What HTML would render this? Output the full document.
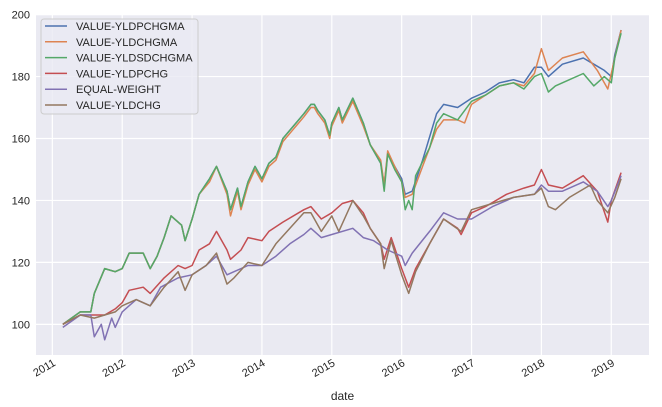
<!DOCTYPE html>
<html><head><meta charset="utf-8"><style>
body{margin:0;background:#fff;}
svg{display:block;font-family:"Liberation Sans","DejaVu Sans",sans-serif;}
</style></head><body>
<svg id="chart" width="662" height="407" viewBox="0 0 662 407" xmlns="http://www.w3.org/2000/svg">
<rect x="36" y="14" width="613" height="341" fill="#eaeaf2"/>
<g id="grid"></g><g id="series"></g><g id="axes"></g><g id="legend"></g>
</svg>
<script>
const yTicks=[100,120,140,160,180,200];
const xTicks=[2011,2012,2013,2014,2015,2016,2017,2018,2019];
const names=["VALUE-YLDPCHGMA","VALUE-YLDCHGMA","VALUE-YLDSDCHGMA","VALUE-YLDPCHG","EQUAL-WEIGHT","VALUE-YLDCHG"];
const colors=["#4c72b0","#dd8452","#55a868","#c44e52","#8172b3","#937860"];
const greenT=[2011.15,2011.4,2011.55,2011.6,2011.75,2011.9,2012.0,2012.1,2012.3,2012.4,2012.5,2012.6,2012.7,2012.85,2012.9,2013.0,2013.1,2013.25,2013.35,2013.5,2013.55,2013.65,2013.7,2013.8,2013.9,2014.0,2014.1,2014.2,2014.3,2014.45,2014.6,2014.7,2014.75,2014.8,2014.9,2014.97,2015.0,2015.1,2015.15,2015.3,2015.45,2015.55,2015.7,2015.75,2015.8,2015.9,2016.0,2016.05,2016.1,2016.15,2016.2,2016.4,2016.5,2016.6,2016.8,2016.9,2017.0,2017.2,2017.4,2017.6,2017.75,2017.9,2018.0,2018.1,2018.2,2018.4,2018.6,2018.75,2018.9,2019.0,2019.05,2019.14];
const greenV=[100,104,104,110,118,117,118,123,123,118,122,128,135,132,127,134,142,147,151,143,137,144,138,146,151,147,152,154,160,164,168,171,171,169,166,161,165,170,166,173,165,158,152,143,155,150,146,137,140,137,148,157,165,168,166,169,172,174,177,178,176,180,181,175,177,179,181,177,180,178,186,194];
const blueT=[2011.15,2011.4,2011.55,2011.6,2011.75,2011.9,2012.0,2012.1,2012.3,2012.4,2012.5,2012.6,2012.7,2012.85,2012.9,2013.0,2013.1,2013.25,2013.35,2013.5,2013.55,2013.65,2013.7,2013.8,2013.9,2014.0,2014.1,2014.2,2014.3,2014.45,2014.6,2014.7,2014.75,2014.8,2014.9,2014.97,2015.0,2015.1,2015.15,2015.3,2015.45,2015.55,2015.7,2015.75,2015.8,2015.9,2016.0,2016.05,2016.15,2016.3,2016.5,2016.6,2016.8,2017.0,2017.2,2017.4,2017.6,2017.75,2017.9,2018.0,2018.1,2018.3,2018.6,2018.75,2018.9,2019.0,2019.05,2019.14];
const blueV=[100,104,104,110,118,117,118,123,123,118,122,128,135,132,127,134,142,147,151,143,137,144,138,146,151,147,152,154,160,164,168,171,171,169,166,161,165,170,166,173,165,158,152,145,155,151,147,142,143,153,168,171,170,173,175,178,179,178,183,183,180,184,186,184,182,180,187,195];
const orangeT=[2011.15,2011.4,2011.55,2011.6,2011.75,2011.9,2012.0,2012.1,2012.3,2012.4,2012.5,2012.6,2012.7,2012.85,2012.9,2013.0,2013.1,2013.25,2013.35,2013.5,2013.55,2013.65,2013.7,2013.8,2013.9,2014.0,2014.1,2014.2,2014.3,2014.45,2014.6,2014.7,2014.75,2014.8,2014.9,2014.97,2015.0,2015.1,2015.15,2015.3,2015.45,2015.55,2015.7,2015.75,2015.8,2015.9,2016.0,2016.05,2016.15,2016.3,2016.5,2016.6,2016.8,2016.9,2017.0,2017.2,2017.4,2017.6,2017.75,2017.9,2018.0,2018.1,2018.3,2018.6,2018.8,2018.95,2019.05,2019.14];
const orangeV=[100,104,104,110,118,117,118,123,123,118,122,128,135,132,127,134,142,146,151,142,135,143,137,145,150,146,151,153,159,163,167,170,170,168,165,160,164,169,165,172,164,158,153,145,156,151,146,141,142,151,163,166,166,165,171,174,177,178,177,181,189,182,186,188,182,176,186,195];
const redT=[2011.15,2011.4,2011.6,2011.75,2011.9,2012.0,2012.1,2012.3,2012.4,2012.6,2012.8,2012.9,2013.0,2013.1,2013.25,2013.35,2013.5,2013.55,2013.7,2013.8,2014.0,2014.1,2014.3,2014.6,2014.7,2014.85,2015.0,2015.15,2015.3,2015.45,2015.55,2015.7,2015.75,2015.85,2016.0,2016.1,2016.2,2016.4,2016.6,2016.8,2016.85,2017.0,2017.2,2017.5,2017.75,2017.9,2018.0,2018.1,2018.3,2018.6,2018.8,2018.95,2019.0,2019.14];
const redV=[100,103,103,103,105,107,111,112,110,115,119,118,119,124,126,130,124,121,124,128,127,130,133,137,138,134,136,139,140,136,131,126,121,128,118,112,118,126,134,131,129,136,138,142,144,145,150,145,144,148,143,133,140,149];
const purpleT=[2011.15,2011.4,2011.55,2011.6,2011.7,2011.75,2011.85,2011.9,2012.0,2012.2,2012.4,2012.55,2012.8,2013.0,2013.2,2013.35,2013.5,2013.6,2013.8,2014.0,2014.2,2014.4,2014.6,2014.7,2014.85,2015.0,2015.3,2015.45,2015.6,2015.8,2016.0,2016.05,2016.15,2016.4,2016.6,2016.8,2017.0,2017.3,2017.6,2017.9,2018.0,2018.1,2018.3,2018.6,2018.8,2018.95,2019.0,2019.14];
const purpleV=[99,103,103,96,100,95,102,99,104,108,106,112,115,116,119,122,116,117,119,119,122,126,129,131,128,129,131,128,127,124,122,119,123,130,136,134,134,138,141,142,145,143,143,146,143,138,140,148];
const brownT=[2011.15,2011.4,2011.6,2011.75,2011.9,2012.0,2012.2,2012.4,2012.6,2012.8,2012.9,2013.0,2013.2,2013.35,2013.5,2013.6,2013.8,2014.0,2014.2,2014.4,2014.6,2014.7,2014.85,2015.0,2015.1,2015.3,2015.45,2015.55,2015.7,2015.75,2015.85,2016.0,2016.1,2016.2,2016.4,2016.6,2016.85,2017.0,2017.3,2017.6,2017.9,2018.0,2018.1,2018.2,2018.4,2018.7,2018.8,2018.95,2019.05,2019.14];
const brownV=[100,103,102,103,104,106,108,106,112,117,111,116,119,123,113,115,120,119,126,131,136,136,130,135,130,140,135,131,126,118,127,116,110,117,126,134,130,137,139,141,142,144,138,137,141,145,140,136,141,147];
const seriesT=[blueT,orangeT,greenT,redT,purpleT,brownT];
const seriesV=[blueV,orangeV,greenV,redV,purpleV,brownV];
const L=36,R=649,T=14,B=355,X0=2010.766,X1=2019.54,Y0=90.1,Y1=200.2;
const xs=t=>L+(t-X0)/(X1-X0)*(R-L);
const ys=v=>B-(v-Y0)/(Y1-Y0)*(B-T);
const NS="http://www.w3.org/2000/svg";
function mk(tag,attrs,parent,text){const e=document.createElementNS(NS,tag);for(const k in attrs)e.setAttribute(k,attrs[k]);if(text!==undefined)e.textContent=text;parent.appendChild(e);return e;}
const grid=document.getElementById('grid'),axes=document.getElementById('axes'),ser=document.getElementById('series'),leg=document.getElementById('legend');
yTicks.forEach(v=>{const y=ys(v);
 const g=mk('line',{x1:L,x2:R,y1:y,y2:y,stroke:'#fff','stroke-width':1.2},grid);
 
 const t=mk('text',{x:L-6,y:y+4,'text-anchor':'end','font-size':11,fill:'#262626'},axes,String(v));
 });
xTicks.forEach(v=>{const x=xs(v);
 const g=mk('line',{x1:x,x2:x,y1:T,y2:B,stroke:'#fff','stroke-width':1.2},grid);
 
 const t=mk('text',{x:x+4,y:B+10,'text-anchor':'end','font-size':11,fill:'#262626',transform:`rotate(-30 ${x+4} ${B+10})`},axes,String(v));
 });
const xt=mk('text',{x:(L+R)/2,y:400,'text-anchor':'middle','font-size':12,fill:'#262626'},axes,'date');

const order=[0,1,2,3,4,5];
[2,0,1,3,5,4].forEach(i=>{});
order.forEach(i=>{const d=seriesT[i].map((t,j)=>(j?'L':'M')+xs(t).toFixed(1)+' '+ys(seriesV[i][j]).toFixed(1)).join(' ');
 const p=mk('path',{d:d,fill:'none',stroke:colors[i],'stroke-width':1.5,'stroke-linejoin':'round'},ser);
 });
const box=mk('rect',{x:41,y:19,width:157,height:95,rx:3,fill:'#eaeaf2',stroke:'#cccccc','fill-opacity':0.8},leg);

names.forEach((n,i)=>{const y=26+i*15.8;
 const l=mk('line',{x1:45,x2:67,y1:y,y2:y,stroke:colors[i],'stroke-width':1.5},leg);
 
 const t=mk('text',{x:76,y:y+4,'font-size':11,fill:'#262626'},leg,n);
 });
</script>
</body></html>
